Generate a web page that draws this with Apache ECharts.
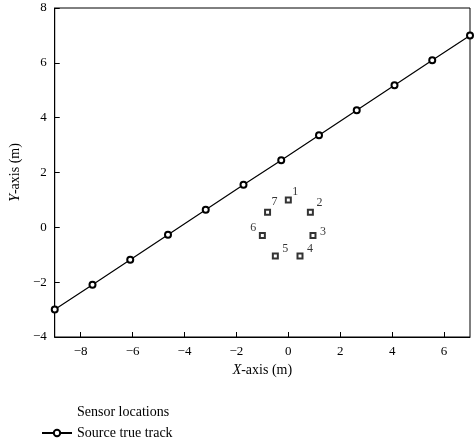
<!DOCTYPE html>
<html>
<head>
<meta charset="utf-8">
<script src="https://cdn.jsdelivr.net/npm/echarts@6/dist/echarts.min.js"></script>
<style>html,body{margin:0;padding:0;background:#fff}#main{width:474px;height:440px}</style>
</head>
<body>
<div id="main"></div>
<script>
// source true track
var trackX = [-9, -7.545, -6.091, -4.636, -3.182, -1.727, -0.273, 1.182, 2.636, 4.091, 5.545, 7];
var trackY = [-3, -2.09, -1.18, -0.27, 0.64, 1.55, 2.45, 3.36, 4.27, 5.18, 6.09, 7];
// sensors
var sensorX = [0, 0.85, 0.95, 0.45, -0.5, -1.0, -0.8];
var sensorY = [1.0, 0.55, -0.3, -1.05, -1.05, -0.3, 0.55];
var sensorLabels = ['1', '2', '3', '4', '5', '6', '7'];
var labelPos = [[7,-8],[9,-9],[10,-4],[10,-7],[10,-7],[-9,-8],[7,-10]];
var xTicks = [-8, -6, -4, -2, 0, 2, 4, 6];

var font = 'Liberation Serif';
var chart = echarts.init(document.getElementById('main'));
var axisCommon = {
  axisLine: {show: true, onZero: false, lineStyle: {color: '#000'}},
  axisTick: {inside: true, length: 5, lineStyle: {color: '#000'}},
  axisLabel: {color: '#000', fontFamily: font, fontSize: 13},
  splitLine: {show: false},
  nameLocation: 'middle',
  nameTextStyle: {color: '#000', fontFamily: font, fontSize: 14,
    rich: {i: {fontStyle: 'italic', fontFamily: font, fontSize: 14, color: '#000'}}}
};
function minus(v) { return String(v).replace('-', '−'); }
chart.setOption({
  animation: false,
  grid: {left: 46, right: 4, top: 8, bottom: 103, show: true, borderColor: '#000', borderWidth: 1},
  xAxis: Object.assign({}, axisCommon, {type: 'value', min: -9, max: 7,
    name: '{i|X}-axis (m)', nameGap: 24,
    axisTick: Object.assign({}, axisCommon.axisTick, {customValues: xTicks}),
    axisLabel: Object.assign({}, axisCommon.axisLabel, {customValues: xTicks, formatter: minus})}),
  yAxis: Object.assign({}, axisCommon, {type: 'value', min: -4, max: 8, interval: 2,
    name: '{i|Y}-axis (m)', nameGap: 26,
    axisLabel: Object.assign({}, axisCommon.axisLabel, {formatter: minus})}),
  legend: [
    {left: 36, top: 400, itemWidth: 30, itemHeight: 7, data: [{name: 'Sensor locations', icon: 'emptyRect'}],
      itemStyle: {color: '#fff', borderColor: '#000', borderWidth: 1},
      textStyle: {fontFamily: font, fontSize: 14, color: '#000'}},
    {left: 36, top: 421, itemWidth: 30, itemHeight: 8, data: ['Source true track'],
      textStyle: {fontFamily: font, fontSize: 14, color: '#000'}}
  ],
  series: [
    {name: 'Sensor locations', type: 'scatter', symbol: 'emptyRect', symbolSize: 5,
      itemStyle: {color: '#000', borderColor: '#000', borderWidth: 0.8},
      data: sensorX.map(function (x, i) {
        return {value: [x, sensorY[i]], label: {show: true, formatter: sensorLabels[i],
          position: 'inside', offset: labelPos[i], color: '#000', fontFamily: font, fontSize: 12}};
      })},
    {name: 'Source true track', type: 'line', symbol: 'emptyCircle', symbolSize: 6,
      lineStyle: {color: '#000', width: 1.2}, itemStyle: {color: '#000', borderColor: '#000', borderWidth: 0.8},
      data: trackX.map(function (x, i) { return [x, trackY[i]]; })}
  ]
});
</script>
</body>
</html>
